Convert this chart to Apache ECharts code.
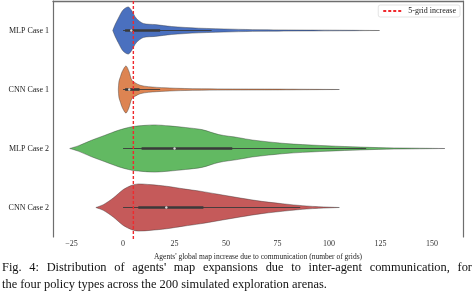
<!DOCTYPE html>
<html>
<head>
<meta charset="utf-8">
<script src="https://cdn.jsdelivr.net/npm/echarts@6/dist/echarts.min.js"></script>
<style>
  html, body { margin: 0; padding: 0; background: #fff; }
  #chart { width: 474px; height: 294px; }
  .caption {
    position: absolute; left: 2px; width: 470px; white-space: nowrap;
    font-family: "Liberation Serif", serif; font-size: 12.4px; line-height: 17px;
    color: #111;
  }
  #cap1 { top: 259px; text-align: justify; text-align-last: justify; white-space: normal; }
  #cap2 { top: 276px; }
</style>
</head>
<body>
<div id="chart"></div>
<div class="caption" id="cap1">Fig. 4: Distribution of agents' map expansions due to inter-agent communication, for</div>
<div class="caption" id="cap2">the four policy types across the 200 simulated exploration arenas.</div>
<script>
// categories, top to bottom
const policies = ["MLP Case 1", "CNN Case 1", "MLP Case 2", "CNN Case 2"];
const tickValues = [-25, 0, 25, 50, 75, 100, 125, 150];
const threshold = 5;

// violin outlines: value along x, relative half-width (1 = widest)
const mlp1Values = [-5, -4, -2.3, 0, 2.5, 4, 6.4, 9.8, 15.7, 23.5, 36.7, 53, 66, 85, 105, 124.5];
const mlp1Width = [0, 0.22, 0.52, 0.87, 1, 0.87, 0.52, 0.3, 0.25, 0.17, 0.1, 0.057, 0.035, 0.022, 0.013, 0];
const cnn1Values = [-2.3, -2, -1.2, -0.4, 1.4, 2.9, 4.2, 5.8, 8.3, 12.3, 20.5, 30, 46, 76, 105];
const cnn1Width = [0, 0.34, 0.56, 0.76, 1, 0.76, 0.4, 0.29, 0.18, 0.12, 0.073, 0.043, 0.026, 0.017, 0];
const mlp2Values = [-25.9, -21.8, -15.3, -8.8, -2.3, 4.2, 10.7, 15.6, 22.1, 30.2, 38.3, 46.5, 56.2, 62.7, 79, 95.2, 111.4, 127.8, 144, 156.2];
const mlp2Width = [0, 0.11, 0.35, 0.56, 0.77, 0.92, 0.98, 1, 0.96, 0.89, 0.8, 0.59, 0.46, 0.36, 0.21, 0.13, 0.072, 0.03, 0.013, 0];
const cnn2Values = [-13.2, -9.6, -4.8, 0.1, 4.2, 7.4, 13.1, 21.2, 29.4, 37.5, 45.6, 57, 67.4, 80.6, 89, 95, 105];
const cnn2Width = [0, 0.12, 0.4, 0.76, 0.94, 1, 0.97, 0.9, 0.79, 0.69, 0.57, 0.4, 0.26, 0.13, 0.064, 0.034, 0];

// inner box stats
const whiskerLow = [0, 0, 0, 0];
const q1 = [1, 1, 9, 7.4];
const medians = [4, 3, 25, 21];
const q3 = [18, 8, 53, 39];
const whiskerHigh = [43, 18, 118, 86];

const violinColors = ["#4a70bf", "#dd8452", "#62b962", "#c55a5a"];
const lineRed = "#f0282d";
const FONT = "Liberation Serif";

const outlines = [
  [mlp1Values, mlp1Width],
  [cnn1Values, cnn1Width],
  [mlp2Values, mlp2Width],
  [cnn2Values, cnn2Width],
];

function renderViolin(params, api) {
  const i = api.value(1);
  const band = api.size([0, 1])[1];
  const maxHalf = band * 0.4;
  const [vals, widths] = outlines[i];
  const upper = [], lower = [];
  vals.forEach((v, k) => {
    const p = api.coord([v, i]);
    upper.push([p[0], p[1] - widths[k] * maxHalf]);
    lower.push([p[0], p[1] + widths[k] * maxHalf]);
  });
  const pts = upper.concat(lower.reverse());
  const wl = api.coord([whiskerLow[i], i]);
  const wh = api.coord([whiskerHigh[i], i]);
  const b1 = api.coord([q1[i], i]);
  const b3 = api.coord([q3[i], i]);
  const md = api.coord([medians[i], i]);
  return {
    type: "group",
    children: [
      {
        type: "polygon",
        shape: { points: pts, smooth: 0.3 },
        style: { fill: violinColors[i], stroke: "rgba(45,45,45,0.55)", lineWidth: 0.7 },
      },
      {
        type: "line",
        shape: { x1: wl[0], y1: wl[1], x2: wh[0], y2: wh[1] },
        style: { stroke: "#3a3a3a", lineWidth: 0.9 },
      },
      {
        type: "line",
        shape: { x1: b1[0], y1: b1[1], x2: b3[0], y2: b3[1] },
        style: { stroke: "#3a3a3a", lineWidth: 2.6 },
      },
      {
        type: "circle",
        shape: { cx: md[0], cy: md[1], r: 1.2 },
        style: { fill: "rgba(255,255,255,0.8)" },
      },
    ],
  };
}

// vertical dashed threshold line across the whole plot
function renderThreshold(params, api) {
  const p = api.coord([api.value(0), 0]);
  const cs = params.coordSys;
  return {
    type: "line",
    shape: { x1: p[0], y1: cs.y, x2: p[0], y2: cs.y + cs.height + 3 },
    style: { stroke: lineRed, lineWidth: 1.4, lineDash: [3, 2] },
  };
}

const chart = echarts.init(document.getElementById("chart"), null, { renderer: "canvas" });

chart.setOption({
  animation: false,
  backgroundColor: "#fff",
  grid: { left: 53, right: 11, top: 1, bottom: 57, outerBoundsMode: "none", containLabel: false },
  legend: {
    top: 5,
    right: 14,
    data: ["5-grid increase"],
    itemWidth: 20,
    itemHeight: 8,
    itemGap: 4,
    padding: [2, 4, 2, 4],
    borderColor: "#dcdcdc",
    borderWidth: 0.8,
    borderRadius: 2,
    itemStyle: { opacity: 0 },
    textStyle: { fontFamily: FONT, fontSize: 8, color: "#222" },
  },
  xAxis: [
    {
      type: "value",
      min: -34,
      max: 165,
      splitLine: { show: false },
      axisLine: { show: false },
      axisTick: { show: false },
      axisLabel: {
        customValues: tickValues,
        margin: 3,
        fontFamily: FONT,
        fontSize: 8,
        color: "#333",
        formatter: (v) => (v < 0 ? "\u2212" + Math.abs(v) : String(v)),
      },
      name: "Agents' global map increase due to communication (number of grids)",
      nameLocation: "middle",
      nameGap: 13,
      nameTextStyle: { fontFamily: FONT, fontSize: 7.5, color: "#222" },
    },
    {
      type: "value",
      position: "top",
      min: -34,
      max: 165,
      splitLine: { show: false },
      axisTick: { show: false },
      axisLabel: { show: false },
      axisLine: { show: true, onZero: false, lineStyle: { color: "#6e6e6e", width: 1.4 } },
    },
  ],
  yAxis: [
    {
      type: "category",
      data: policies,
      inverse: true,
      axisTick: { show: false },
      axisLine: { show: true, onZero: false, lineStyle: { color: "#6e6e6e", width: 1.2 } },
      axisLabel: { margin: 4, fontFamily: FONT, fontSize: 8, color: "#222" },
      name: "Policy",
      nameLocation: "middle",
      nameRotate: 90,
      nameGap: 42,
      nameTextStyle: { fontFamily: FONT, fontSize: 8, color: "#222" },
    },
    {
      type: "category",
      data: policies,
      inverse: true,
      position: "right",
      axisTick: { show: false },
      axisLabel: { show: false },
      axisLine: { show: true, onZero: false, lineStyle: { color: "#6e6e6e", width: 1.2 } },
    },
  ],
  series: [
    {
      type: "custom",
      name: "violins",
      renderItem: renderViolin,
      encode: { x: 0, y: 1 },
      data: policies.map((p, i) => [medians[i], i]),
      z: 2,
    },
    {
      type: "custom",
      name: "threshold",
      renderItem: renderThreshold,
      encode: { x: 0, y: 1 },
      data: [[threshold, 0]],
      clip: false,
      z: 5,
    },
    {
      // legend entry only
      type: "line",
      name: "5-grid increase",
      data: [],
      symbol: "none",
      color: lineRed,
      lineStyle: { color: lineRed, type: [3, 2], width: 1 },
      itemStyle: { color: lineRed },
    },
  ],
});
</script>
</body>
</html>
